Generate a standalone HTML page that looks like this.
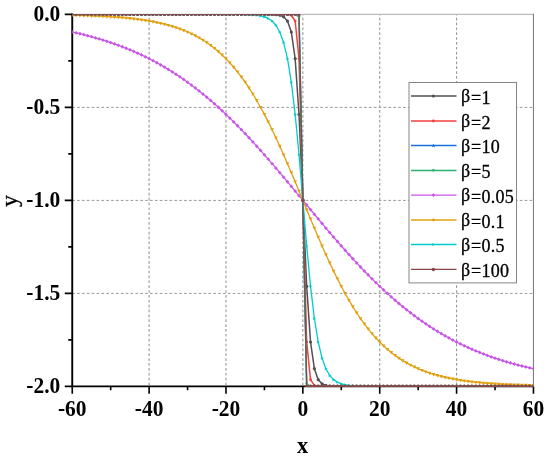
<!DOCTYPE html>
<html><head><meta charset="utf-8"><style>
html,body{margin:0;padding:0;background:#fff;}
body{width:550px;height:460px;overflow:hidden;}
svg{display:block;}
</style></head><body>
<svg width="550" height="460" viewBox="0 0 550 460">
<defs>
<marker id="m0" markerUnits="userSpaceOnUse" markerWidth="8" markerHeight="8" viewBox="-4 -4 8 8" refX="0" refY="0" overflow="visible"><path d="M-1.6,0a1.6,1.6 0 1,0 3.2,0a1.6,1.6 0 1,0 -3.2,0z" fill="#515151"/></marker>
<marker id="m1" markerUnits="userSpaceOnUse" markerWidth="8" markerHeight="8" viewBox="-4 -4 8 8" refX="0" refY="0" overflow="visible"><path d="M-1.4,0a1.4,1.4 0 1,0 2.8,0a1.4,1.4 0 1,0 -2.8,0z" fill="#F14040"/></marker>
<marker id="m2" markerUnits="userSpaceOnUse" markerWidth="8" markerHeight="8" viewBox="-4 -4 8 8" refX="0" refY="0" overflow="visible"><path d="M0,-1.80L1.65,1.20H-1.65z" fill="#1A6FDF"/></marker>
<marker id="m3" markerUnits="userSpaceOnUse" markerWidth="8" markerHeight="8" viewBox="-4 -4 8 8" refX="0" refY="0" overflow="visible"><path d="M0,1.80L1.65,-1.20H-1.65z" fill="#2AB070"/></marker>
<marker id="m4" markerUnits="userSpaceOnUse" markerWidth="8" markerHeight="8" viewBox="-4 -4 8 8" refX="0" refY="0" overflow="visible"><path d="M0,-1.89L1.89,0L0,1.89L-1.89,0z" fill="#C955E8"/></marker>
<marker id="m5" markerUnits="userSpaceOnUse" markerWidth="8" markerHeight="8" viewBox="-4 -4 8 8" refX="0" refY="0" overflow="visible"><path d="M0,2.04L1.87,-1.36H-1.87z" fill="#E0A010"/></marker>
<marker id="m6" markerUnits="userSpaceOnUse" markerWidth="8" markerHeight="8" viewBox="-4 -4 8 8" refX="0" refY="0" overflow="visible"><path d="M1.68,0L-1.12,-1.54V1.54z" fill="#00CBCC"/></marker>
<marker id="m7" markerUnits="userSpaceOnUse" markerWidth="8" markerHeight="8" viewBox="-4 -4 8 8" refX="0" refY="0" overflow="visible"><path d="M-1.75,0a1.75,1.75 0 1,0 3.5,0a1.75,1.75 0 1,0 -3.5,0z" fill="#8B4545"/></marker>
<clipPath id="cp"><rect x="72.25" y="14.25" width="461.2" height="372.65"/></clipPath>
</defs>
<path d="M149.12,14.35V386.35M225.98,14.35V386.35M302.85,14.35V386.35M379.72,14.35V386.35M456.58,14.35V386.35" stroke="#999" stroke-width="1.1" stroke-dasharray="2.7,2.165" stroke-dashoffset="1.53" fill="none"/>
<path d="M72.25,107.4H533.45M72.25,200.4H533.45M72.25,293.4H533.45" stroke="#999" stroke-width="1" stroke-dasharray="2.7,2.165" stroke-dashoffset="0.07" fill="none"/>
<path d="M72.25,14.35H533.45" stroke="#bbb" stroke-width="1.2" fill="none"/>
<path d="M533.45,13.75V386.35" stroke="#808080" stroke-width="1.1" fill="none"/>
<path d="M72.25,13.55V386.35H533.95" stroke="#000" stroke-width="1.9" fill="none"/>
<path d="M72.25,386.35v7.5M149.12,386.35v7.5M225.98,386.35v7.5M302.85,386.35v7.5M379.72,386.35v7.5M456.58,386.35v7.5M533.45,386.35v7.5M110.68,386.35v4M187.55,386.35v4M264.42,386.35v4M341.28,386.35v4M418.15,386.35v4M495.02,386.35v4M72.25,14.35h-7.5M72.25,107.35h-7.5M72.25,200.35h-7.5M72.25,293.35h-7.5M72.25,386.35h-7.5M72.25,60.85h-4M72.25,153.85h-4M72.25,246.85h-4M72.25,339.85h-4" stroke="#000" stroke-width="1.6" fill="none"/>
<g clip-path="url(#cp)">
<polyline points="72.25,14.35 76.09,14.35 79.94,14.35 83.78,14.35 87.62,14.35 91.47,14.35 95.31,14.35 99.15,14.35 103,14.35 106.84,14.35 110.68,14.35 114.53,14.35 118.37,14.35 122.21,14.35 126.06,14.35 129.9,14.35 133.74,14.35 137.59,14.35 141.43,14.35 145.27,14.35 149.12,14.35 152.96,14.35 156.8,14.35 160.65,14.35 164.49,14.35 168.33,14.35 172.18,14.35 176.02,14.35 179.86,14.35 183.71,14.35 187.55,14.35 191.39,14.35 195.24,14.35 199.08,14.35 202.92,14.35 206.77,14.35 210.61,14.35 214.45,14.35 218.3,14.35 222.14,14.35 225.98,14.35 229.83,14.35 233.67,14.35 237.51,14.35 241.36,14.35 245.2,14.35 249.04,14.35 252.89,14.35 256.73,14.35 260.57,14.36 264.42,14.37 268.26,14.4 272.1,14.47 275.95,14.69 279.79,15.27 283.63,16.84 287.48,21.04 291.32,31.99 295.16,58.69 299.01,114.4 302.85,200.35 306.69,286.3 310.54,342.01 314.38,368.71 318.22,379.66 322.07,383.86 325.91,385.43 329.75,386.01 333.6,386.23 337.44,386.3 341.28,386.33 345.13,386.34 348.97,386.35 352.81,386.35 356.66,386.35 360.5,386.35 364.34,386.35 368.19,386.35 372.03,386.35 375.87,386.35 379.72,386.35 383.56,386.35 387.4,386.35 391.25,386.35 395.09,386.35 398.93,386.35 402.78,386.35 406.62,386.35 410.46,386.35 414.31,386.35 418.15,386.35 421.99,386.35 425.84,386.35 429.68,386.35 433.52,386.35 437.37,386.35 441.21,386.35 445.05,386.35 448.9,386.35 452.74,386.35 456.58,386.35 460.43,386.35 464.27,386.35 468.11,386.35 471.96,386.35 475.8,386.35 479.64,386.35 483.49,386.35 487.33,386.35 491.17,386.35 495.02,386.35 498.86,386.35 502.7,386.35 506.55,386.35 510.39,386.35 514.23,386.35 518.08,386.35 521.92,386.35 525.76,386.35 529.61,386.35 533.45,386.35" fill="none" stroke="#515151" stroke-width="1.5" stroke-linejoin="round" marker-start="url(#m0)" marker-mid="url(#m0)" marker-end="url(#m0)"/>
<polyline points="72.25,14.35 76.09,14.35 79.94,14.35 83.78,14.35 87.62,14.35 91.47,14.35 95.31,14.35 99.15,14.35 103,14.35 106.84,14.35 110.68,14.35 114.53,14.35 118.37,14.35 122.21,14.35 126.06,14.35 129.9,14.35 133.74,14.35 137.59,14.35 141.43,14.35 145.27,14.35 149.12,14.35 152.96,14.35 156.8,14.35 160.65,14.35 164.49,14.35 168.33,14.35 172.18,14.35 176.02,14.35 179.86,14.35 183.71,14.35 187.55,14.35 191.39,14.35 195.24,14.35 199.08,14.35 202.92,14.35 206.77,14.35 210.61,14.35 214.45,14.35 218.3,14.35 222.14,14.35 225.98,14.35 229.83,14.35 233.67,14.35 237.51,14.35 241.36,14.35 245.2,14.35 249.04,14.35 252.89,14.35 256.73,14.35 260.57,14.35 264.42,14.35 268.26,14.35 272.1,14.35 275.95,14.35 279.79,14.35 283.63,14.37 287.48,14.47 291.32,15.27 295.16,21.04 299.01,58.69 302.85,200.35 306.69,342.01 310.54,379.66 314.38,385.43 318.22,386.23 322.07,386.33 325.91,386.35 329.75,386.35 333.6,386.35 337.44,386.35 341.28,386.35 345.13,386.35 348.97,386.35 352.81,386.35 356.66,386.35 360.5,386.35 364.34,386.35 368.19,386.35 372.03,386.35 375.87,386.35 379.72,386.35 383.56,386.35 387.4,386.35 391.25,386.35 395.09,386.35 398.93,386.35 402.78,386.35 406.62,386.35 410.46,386.35 414.31,386.35 418.15,386.35 421.99,386.35 425.84,386.35 429.68,386.35 433.52,386.35 437.37,386.35 441.21,386.35 445.05,386.35 448.9,386.35 452.74,386.35 456.58,386.35 460.43,386.35 464.27,386.35 468.11,386.35 471.96,386.35 475.8,386.35 479.64,386.35 483.49,386.35 487.33,386.35 491.17,386.35 495.02,386.35 498.86,386.35 502.7,386.35 506.55,386.35 510.39,386.35 514.23,386.35 518.08,386.35 521.92,386.35 525.76,386.35 529.61,386.35 533.45,386.35" fill="none" stroke="#F14040" stroke-width="1.5" stroke-linejoin="round" marker-start="url(#m1)" marker-mid="url(#m1)" marker-end="url(#m1)"/>
<polyline points="72.25,14.35 76.09,14.35 79.94,14.35 83.78,14.35 87.62,14.35 91.47,14.35 95.31,14.35 99.15,14.35 103,14.35 106.84,14.35 110.68,14.35 114.53,14.35 118.37,14.35 122.21,14.35 126.06,14.35 129.9,14.35 133.74,14.35 137.59,14.35 141.43,14.35 145.27,14.35 149.12,14.35 152.96,14.35 156.8,14.35 160.65,14.35 164.49,14.35 168.33,14.35 172.18,14.35 176.02,14.35 179.86,14.35 183.71,14.35 187.55,14.35 191.39,14.35 195.24,14.35 199.08,14.35 202.92,14.35 206.77,14.35 210.61,14.35 214.45,14.35 218.3,14.35 222.14,14.35 225.98,14.35 229.83,14.35 233.67,14.35 237.51,14.35 241.36,14.35 245.2,14.35 249.04,14.35 252.89,14.35 256.73,14.35 260.57,14.35 264.42,14.35 268.26,14.35 272.1,14.35 275.95,14.35 279.79,14.35 283.63,14.35 287.48,14.35 291.32,14.35 295.16,14.35 299.01,14.37 302.85,200.35 306.69,386.33 310.54,386.35 314.38,386.35 318.22,386.35 322.07,386.35 325.91,386.35 329.75,386.35 333.6,386.35 337.44,386.35 341.28,386.35 345.13,386.35 348.97,386.35 352.81,386.35 356.66,386.35 360.5,386.35 364.34,386.35 368.19,386.35 372.03,386.35 375.87,386.35 379.72,386.35 383.56,386.35 387.4,386.35 391.25,386.35 395.09,386.35 398.93,386.35 402.78,386.35 406.62,386.35 410.46,386.35 414.31,386.35 418.15,386.35 421.99,386.35 425.84,386.35 429.68,386.35 433.52,386.35 437.37,386.35 441.21,386.35 445.05,386.35 448.9,386.35 452.74,386.35 456.58,386.35 460.43,386.35 464.27,386.35 468.11,386.35 471.96,386.35 475.8,386.35 479.64,386.35 483.49,386.35 487.33,386.35 491.17,386.35 495.02,386.35 498.86,386.35 502.7,386.35 506.55,386.35 510.39,386.35 514.23,386.35 518.08,386.35 521.92,386.35 525.76,386.35 529.61,386.35 533.45,386.35" fill="none" stroke="#1A6FDF" stroke-width="1.5" stroke-linejoin="round" marker-start="url(#m2)" marker-mid="url(#m2)" marker-end="url(#m2)"/>
<polyline points="72.25,14.35 76.09,14.35 79.94,14.35 83.78,14.35 87.62,14.35 91.47,14.35 95.31,14.35 99.15,14.35 103,14.35 106.84,14.35 110.68,14.35 114.53,14.35 118.37,14.35 122.21,14.35 126.06,14.35 129.9,14.35 133.74,14.35 137.59,14.35 141.43,14.35 145.27,14.35 149.12,14.35 152.96,14.35 156.8,14.35 160.65,14.35 164.49,14.35 168.33,14.35 172.18,14.35 176.02,14.35 179.86,14.35 183.71,14.35 187.55,14.35 191.39,14.35 195.24,14.35 199.08,14.35 202.92,14.35 206.77,14.35 210.61,14.35 214.45,14.35 218.3,14.35 222.14,14.35 225.98,14.35 229.83,14.35 233.67,14.35 237.51,14.35 241.36,14.35 245.2,14.35 249.04,14.35 252.89,14.35 256.73,14.35 260.57,14.35 264.42,14.35 268.26,14.35 272.1,14.35 275.95,14.35 279.79,14.35 283.63,14.35 287.48,14.35 291.32,14.35 295.16,14.37 299.01,16.84 302.85,200.35 306.69,383.86 310.54,386.33 314.38,386.35 318.22,386.35 322.07,386.35 325.91,386.35 329.75,386.35 333.6,386.35 337.44,386.35 341.28,386.35 345.13,386.35 348.97,386.35 352.81,386.35 356.66,386.35 360.5,386.35 364.34,386.35 368.19,386.35 372.03,386.35 375.87,386.35 379.72,386.35 383.56,386.35 387.4,386.35 391.25,386.35 395.09,386.35 398.93,386.35 402.78,386.35 406.62,386.35 410.46,386.35 414.31,386.35 418.15,386.35 421.99,386.35 425.84,386.35 429.68,386.35 433.52,386.35 437.37,386.35 441.21,386.35 445.05,386.35 448.9,386.35 452.74,386.35 456.58,386.35 460.43,386.35 464.27,386.35 468.11,386.35 471.96,386.35 475.8,386.35 479.64,386.35 483.49,386.35 487.33,386.35 491.17,386.35 495.02,386.35 498.86,386.35 502.7,386.35 506.55,386.35 510.39,386.35 514.23,386.35 518.08,386.35 521.92,386.35 525.76,386.35 529.61,386.35 533.45,386.35" fill="none" stroke="#2AB070" stroke-width="1.5" stroke-linejoin="round" marker-start="url(#m3)" marker-mid="url(#m3)" marker-end="url(#m3)"/>
<polyline points="72.25,31.99 76.09,32.85 79.94,33.75 83.78,34.69 87.62,35.67 91.47,36.7 95.31,37.78 99.15,38.9 103,40.07 106.84,41.29 110.68,42.57 114.53,43.9 118.37,45.29 122.21,46.74 126.06,48.25 129.9,49.82 133.74,51.46 137.59,53.16 141.43,54.93 145.27,56.78 149.12,58.69 152.96,60.68 156.8,62.75 160.65,64.89 164.49,67.12 168.33,69.42 172.18,71.81 176.02,74.28 179.86,76.84 183.71,79.48 187.55,82.21 191.39,85.03 195.24,87.94 199.08,90.93 202.92,94.02 206.77,97.19 210.61,100.46 214.45,103.81 218.3,107.25 222.14,110.78 225.98,114.4 229.83,118.1 233.67,121.88 237.51,125.74 241.36,129.68 245.2,133.7 249.04,137.78 252.89,141.94 256.73,146.17 260.57,150.45 264.42,154.8 268.26,159.19 272.1,163.64 275.95,168.13 279.79,172.66 283.63,177.22 287.48,181.81 291.32,186.43 295.16,191.06 299.01,195.7 302.85,200.35 306.69,205 310.54,209.64 314.38,214.27 318.22,218.89 322.07,223.48 325.91,228.04 329.75,232.57 333.6,237.06 337.44,241.51 341.28,245.9 345.13,250.25 348.97,254.53 352.81,258.76 356.66,262.92 360.5,267 364.34,271.02 368.19,274.96 372.03,278.82 375.87,282.6 379.72,286.3 383.56,289.92 387.4,293.45 391.25,296.89 395.09,300.24 398.93,303.51 402.78,306.68 406.62,309.77 410.46,312.76 414.31,315.67 418.15,318.49 421.99,321.22 425.84,323.86 429.68,326.42 433.52,328.89 437.37,331.28 441.21,333.58 445.05,335.81 448.9,337.95 452.74,340.02 456.58,342.01 460.43,343.92 464.27,345.77 468.11,347.54 471.96,349.24 475.8,350.88 479.64,352.45 483.49,353.96 487.33,355.41 491.17,356.8 495.02,358.13 498.86,359.41 502.7,360.63 506.55,361.8 510.39,362.92 514.23,364 518.08,365.03 521.92,366.01 525.76,366.95 529.61,367.85 533.45,368.71" fill="none" stroke="#C955E8" stroke-width="1.25" stroke-linejoin="round" marker-start="url(#m4)" marker-mid="url(#m4)" marker-end="url(#m4)"/>
<polyline points="72.25,15.27 76.09,15.37 79.94,15.47 83.78,15.59 87.62,15.72 91.47,15.86 95.31,16.02 99.15,16.2 103,16.39 106.84,16.6 110.68,16.84 114.53,17.1 118.37,17.39 122.21,17.7 126.06,18.05 129.9,18.44 133.74,18.86 137.59,19.33 141.43,19.85 145.27,20.41 149.12,21.04 152.96,21.73 156.8,22.49 160.65,23.33 164.49,24.24 168.33,25.25 172.18,26.36 176.02,27.58 179.86,28.92 183.71,30.39 187.55,31.99 191.39,33.75 195.24,35.67 199.08,37.78 202.92,40.07 206.77,42.57 210.61,45.29 214.45,48.25 218.3,51.46 222.14,54.93 225.98,58.69 229.83,62.75 233.67,67.12 237.51,71.81 241.36,76.84 245.2,82.21 249.04,87.94 252.89,94.02 256.73,100.46 260.57,107.25 264.42,114.4 268.26,121.88 272.1,129.68 275.95,137.78 279.79,146.17 283.63,154.8 287.48,163.64 291.32,172.66 295.16,181.81 299.01,191.06 302.85,200.35 306.69,209.64 310.54,218.89 314.38,228.04 318.22,237.06 322.07,245.9 325.91,254.53 329.75,262.92 333.6,271.02 337.44,278.82 341.28,286.3 345.13,293.45 348.97,300.24 352.81,306.68 356.66,312.76 360.5,318.49 364.34,323.86 368.19,328.89 372.03,333.58 375.87,337.95 379.72,342.01 383.56,345.77 387.4,349.24 391.25,352.45 395.09,355.41 398.93,358.13 402.78,360.63 406.62,362.92 410.46,365.03 414.31,366.95 418.15,368.71 421.99,370.31 425.84,371.78 429.68,373.12 433.52,374.34 437.37,375.45 441.21,376.46 445.05,377.37 448.9,378.21 452.74,378.97 456.58,379.66 460.43,380.29 464.27,380.85 468.11,381.37 471.96,381.84 475.8,382.26 479.64,382.65 483.49,383 487.33,383.31 491.17,383.6 495.02,383.86 498.86,384.1 502.7,384.31 506.55,384.5 510.39,384.68 514.23,384.84 518.08,384.98 521.92,385.11 525.76,385.23 529.61,385.33 533.45,385.43" fill="none" stroke="#E0A010" stroke-width="1.3" stroke-linejoin="round" marker-start="url(#m5)" marker-mid="url(#m5)" marker-end="url(#m5)"/>
<polyline points="72.25,14.35 76.09,14.35 79.94,14.35 83.78,14.35 87.62,14.35 91.47,14.35 95.31,14.35 99.15,14.35 103,14.35 106.84,14.35 110.68,14.35 114.53,14.35 118.37,14.35 122.21,14.35 126.06,14.35 129.9,14.35 133.74,14.35 137.59,14.35 141.43,14.35 145.27,14.35 149.12,14.35 152.96,14.35 156.8,14.35 160.65,14.35 164.49,14.35 168.33,14.35 172.18,14.35 176.02,14.35 179.86,14.35 183.71,14.35 187.55,14.35 191.39,14.35 195.24,14.35 199.08,14.35 202.92,14.35 206.77,14.35 210.61,14.35 214.45,14.35 218.3,14.36 222.14,14.36 225.98,14.37 229.83,14.38 233.67,14.4 237.51,14.43 241.36,14.47 245.2,14.56 249.04,14.69 252.89,14.91 256.73,15.27 260.57,15.86 264.42,16.84 268.26,18.44 272.1,21.04 275.95,25.25 279.79,31.99 283.63,42.57 287.48,58.69 291.32,82.21 295.16,114.4 299.01,154.8 302.85,200.35 306.69,245.9 310.54,286.3 314.38,318.49 318.22,342.01 322.07,358.13 325.91,368.71 329.75,375.45 333.6,379.66 337.44,382.26 341.28,383.86 345.13,384.84 348.97,385.43 352.81,385.79 356.66,386.01 360.5,386.14 364.34,386.23 368.19,386.27 372.03,386.3 375.87,386.32 379.72,386.33 383.56,386.34 387.4,386.34 391.25,386.35 395.09,386.35 398.93,386.35 402.78,386.35 406.62,386.35 410.46,386.35 414.31,386.35 418.15,386.35 421.99,386.35 425.84,386.35 429.68,386.35 433.52,386.35 437.37,386.35 441.21,386.35 445.05,386.35 448.9,386.35 452.74,386.35 456.58,386.35 460.43,386.35 464.27,386.35 468.11,386.35 471.96,386.35 475.8,386.35 479.64,386.35 483.49,386.35 487.33,386.35 491.17,386.35 495.02,386.35 498.86,386.35 502.7,386.35 506.55,386.35 510.39,386.35 514.23,386.35 518.08,386.35 521.92,386.35 525.76,386.35 529.61,386.35 533.45,386.35" fill="none" stroke="#00CBCC" stroke-width="1.3" stroke-linejoin="round" marker-start="url(#m6)" marker-mid="url(#m6)" marker-end="url(#m6)"/>
<polyline points="72.25,14.35 76.09,14.35 79.94,14.35 83.78,14.35 87.62,14.35 91.47,14.35 95.31,14.35 99.15,14.35 103,14.35 106.84,14.35 110.68,14.35 114.53,14.35 118.37,14.35 122.21,14.35 126.06,14.35 129.9,14.35 133.74,14.35 137.59,14.35 141.43,14.35 145.27,14.35 149.12,14.35 152.96,14.35 156.8,14.35 160.65,14.35 164.49,14.35 168.33,14.35 172.18,14.35 176.02,14.35 179.86,14.35 183.71,14.35 187.55,14.35 191.39,14.35 195.24,14.35 199.08,14.35 202.92,14.35 206.77,14.35 210.61,14.35 214.45,14.35 218.3,14.35 222.14,14.35 225.98,14.35 229.83,14.35 233.67,14.35 237.51,14.35 241.36,14.35 245.2,14.35 249.04,14.35 252.89,14.35 256.73,14.35 260.57,14.35 264.42,14.35 268.26,14.35 272.1,14.35 275.95,14.35 279.79,14.35 283.63,14.35 287.48,14.35 291.32,14.35 295.16,14.35 299.01,14.35 302.85,200.35 306.69,386.35 310.54,386.35 314.38,386.35 318.22,386.35 322.07,386.35 325.91,386.35 329.75,386.35 333.6,386.35 337.44,386.35 341.28,386.35 345.13,386.35 348.97,386.35 352.81,386.35 356.66,386.35 360.5,386.35 364.34,386.35 368.19,386.35 372.03,386.35 375.87,386.35 379.72,386.35 383.56,386.35 387.4,386.35 391.25,386.35 395.09,386.35 398.93,386.35 402.78,386.35 406.62,386.35 410.46,386.35 414.31,386.35 418.15,386.35 421.99,386.35 425.84,386.35 429.68,386.35 433.52,386.35 437.37,386.35 441.21,386.35 445.05,386.35 448.9,386.35 452.74,386.35 456.58,386.35 460.43,386.35 464.27,386.35 468.11,386.35 471.96,386.35 475.8,386.35 479.64,386.35 483.49,386.35 487.33,386.35 491.17,386.35 495.02,386.35 498.86,386.35 502.7,386.35 506.55,386.35 510.39,386.35 514.23,386.35 518.08,386.35 521.92,386.35 525.76,386.35 529.61,386.35 533.45,386.35" fill="none" stroke="#8B4545" stroke-width="1.1" stroke-linejoin="round" marker-start="url(#m7)" marker-mid="url(#m7)" marker-end="url(#m7)"/>
</g>
<g font-family="Liberation Serif, serif" font-weight="bold" font-size="21.5" fill="#000"><text transform="translate(72.25,415.8) scale(1,1.07)" text-anchor="middle">-60</text><text transform="translate(149.12,415.8) scale(1,1.07)" text-anchor="middle">-40</text><text transform="translate(225.98,415.8) scale(1,1.07)" text-anchor="middle">-20</text><text transform="translate(302.85,415.8) scale(1,1.07)" text-anchor="middle">0</text><text transform="translate(379.72,415.8) scale(1,1.07)" text-anchor="middle">20</text><text transform="translate(456.58,415.8) scale(1,1.07)" text-anchor="middle">40</text><text transform="translate(533.45,415.8) scale(1,1.07)" text-anchor="middle">60</text><text transform="translate(60.3,20.75) scale(1,1.07)" text-anchor="end">0.0</text><text transform="translate(60.3,113.75) scale(1,1.07)" text-anchor="end">-0.5</text><text transform="translate(60.3,206.75) scale(1,1.07)" text-anchor="end">-1.0</text><text transform="translate(60.3,299.75) scale(1,1.07)" text-anchor="end">-1.5</text><text transform="translate(60.3,392.75) scale(1,1.07)" text-anchor="end">-2.0</text></g>
<text transform="translate(302.6,453.3) scale(1,1.03)" text-anchor="middle" font-family="Liberation Serif, serif" font-weight="bold" font-size="22.5">x</text>
<text transform="translate(17.3,200.9) rotate(-90)" text-anchor="middle" font-family="Liberation Serif, serif" font-size="24" stroke="#000" stroke-width="0.25">y</text>
<rect x="409" y="82.5" width="107.5" height="200.4" fill="#fff" stroke="#858585" stroke-width="1"/>
<path d="M411,96H456.5" stroke="#515151" stroke-width="1.5"/>
<path transform="translate(433.4,96)" d="M-1.6,0a1.6,1.6 0 1,0 3.2,0a1.6,1.6 0 1,0 -3.2,0z" fill="#515151"/>
<text x="461" y="103.6" font-family="Liberation Serif, serif" font-size="18" letter-spacing="0.3" stroke="#000" stroke-width="0.3"><tspan dy="-1.3">β</tspan><tspan dy="1.3" dx="0.5">=1</tspan></text>
<path d="M411,121H456.5" stroke="#F14040" stroke-width="1.5"/>
<path transform="translate(433.4,121)" d="M-1.4,0a1.4,1.4 0 1,0 2.8,0a1.4,1.4 0 1,0 -2.8,0z" fill="#F14040"/>
<text x="461" y="128.6" font-family="Liberation Serif, serif" font-size="18" letter-spacing="0.3" stroke="#000" stroke-width="0.3"><tspan dy="-1.3">β</tspan><tspan dy="1.3" dx="0.5">=2</tspan></text>
<path d="M411,145.5H456.5" stroke="#1A6FDF" stroke-width="1.5"/>
<path transform="translate(433.4,145.5)" d="M0,-1.80L1.65,1.20H-1.65z" fill="#1A6FDF"/>
<text x="461" y="153.1" font-family="Liberation Serif, serif" font-size="18" letter-spacing="0.3" stroke="#000" stroke-width="0.3"><tspan dy="-1.3">β</tspan><tspan dy="1.3" dx="0.5">=10</tspan></text>
<path d="M411,170.4H456.5" stroke="#2AB070" stroke-width="1.5"/>
<path transform="translate(433.4,170.4)" d="M0,1.80L1.65,-1.20H-1.65z" fill="#2AB070"/>
<text x="461" y="178" font-family="Liberation Serif, serif" font-size="18" letter-spacing="0.3" stroke="#000" stroke-width="0.3"><tspan dy="-1.3">β</tspan><tspan dy="1.3" dx="0.5">=5</tspan></text>
<path d="M411,195.1H456.5" stroke="#C955E8" stroke-width="1.25"/>
<path transform="translate(433.4,195.1)" d="M0,-1.89L1.89,0L0,1.89L-1.89,0z" fill="#C955E8"/>
<text x="461" y="202.7" font-family="Liberation Serif, serif" font-size="18" letter-spacing="0.3" stroke="#000" stroke-width="0.3"><tspan dy="-1.3">β</tspan><tspan dy="1.3" dx="0.5">=0.05</tspan></text>
<path d="M411,220H456.5" stroke="#E0A010" stroke-width="1.3"/>
<path transform="translate(433.4,220)" d="M0,2.04L1.87,-1.36H-1.87z" fill="#E0A010"/>
<text x="461" y="227.6" font-family="Liberation Serif, serif" font-size="18" letter-spacing="0.3" stroke="#000" stroke-width="0.3"><tspan dy="-1.3">β</tspan><tspan dy="1.3" dx="0.5">=0.1</tspan></text>
<path d="M411,244.5H456.5" stroke="#00CBCC" stroke-width="1.3"/>
<path transform="translate(433.4,244.5)" d="M1.68,0L-1.12,-1.54V1.54z" fill="#00CBCC"/>
<text x="461" y="252.1" font-family="Liberation Serif, serif" font-size="18" letter-spacing="0.3" stroke="#000" stroke-width="0.3"><tspan dy="-1.3">β</tspan><tspan dy="1.3" dx="0.5">=0.5</tspan></text>
<path d="M411,269.4H456.5" stroke="#8B4545" stroke-width="1.1"/>
<path transform="translate(433.4,269.4)" d="M-1.75,0a1.75,1.75 0 1,0 3.5,0a1.75,1.75 0 1,0 -3.5,0z" fill="#8B4545"/>
<text x="461" y="277" font-family="Liberation Serif, serif" font-size="18" letter-spacing="0.3" stroke="#000" stroke-width="0.3"><tspan dy="-1.3">β</tspan><tspan dy="1.3" dx="0.5">=100</tspan></text>
</svg>
</body></html>
